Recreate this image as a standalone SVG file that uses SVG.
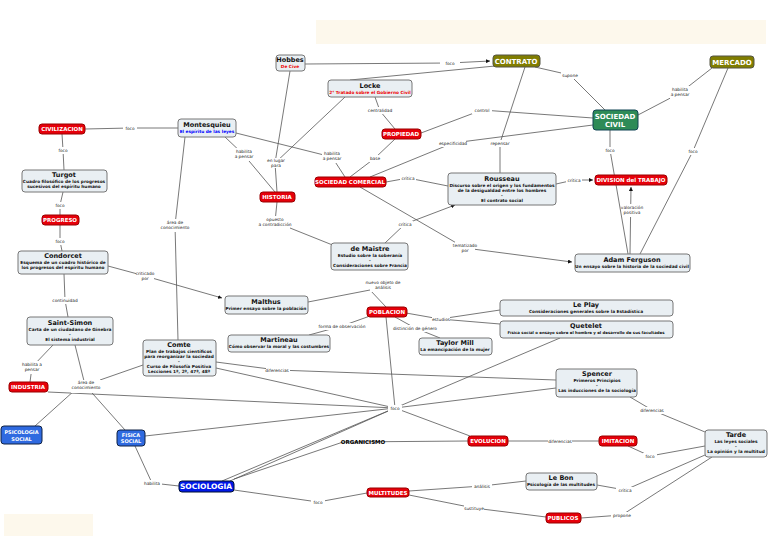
<svg xmlns="http://www.w3.org/2000/svg" width="768" height="536" viewBox="0 0 768 536">
<style>
text{font-family:"DejaVu Sans",sans-serif;text-anchor:middle}
.b rect{fill:#e9eff3;stroke:#777;stroke-width:1}
.t{font-size:6.5px;font-weight:bold;fill:#111}
.s{font-size:4.3px;font-weight:bold;fill:#111}
.sr{font-size:4.3px;font-weight:bold;fill:#e00}
.sb{font-size:4.3px;font-weight:bold;fill:#00f}
.r rect{fill:#e6000a;stroke:#900}
.r text{font-size:5.5px;font-weight:bold;fill:#fff}
.o rect{fill:#807d00;stroke:#554}
.o text{font-size:7px;font-weight:bold;fill:#fff}
.bl rect{fill:#2f6ae0;stroke:#124}
.bl text{font-size:6px;font-weight:bold;fill:#fff}
.c line,.c polyline{stroke:#555;stroke-width:0.8;fill:none}
.l{font-size:4.3px;fill:#222}
</style>
<defs><marker id="a" viewBox="0 0 6 6" refX="6" refY="3" markerWidth="5" markerHeight="5" orient="auto"><path d="M0,0L6,3L0,6z" fill="#111"/></marker></defs>
<rect x="316" y="20" width="450" height="24" fill="#fdf8ec"/>
<rect x="4" y="514" width="89" height="22" fill="#fdf8ec"/>
<g class="c">
<polyline points="305,64 450,63 490,61" marker-end="url(#a)"/>
<polyline points="290,71 275,163 277,192"/>
<polyline points="345,97 275,163"/>
<line x1="350" y1="80" x2="495" y2="66"/>
<polyline points="375,97 380,111 395,129"/>
<polyline points="525,67 500,143 500,173"/>
<polyline points="535,67 570,75 605,110"/>
<polyline points="712,68 680,93 638,115"/>
<polyline points="728,68 693,151 640,254"/>
<polyline points="610,130 610,150 628,254"/>
<polyline points="421,133 482,110 593,118"/>
<polyline points="370,177 453,143 593,125"/>
<polyline points="395,139 375,158 350,177"/>
<polyline points="236,133 332,157 345,177"/>
<polyline points="225,137 244,155 275,192"/>
<polyline points="178,128 130,128 85,129"/>
<polyline points="185,137 175,225 178,340"/>
<polyline points="62,134 63,150 64,170"/>
<polyline points="63,192 60,205 60,215"/>
<polyline points="60,225 60,241 62,251"/>
<polyline points="108,266 145,276 222,298" marker-end="url(#a)"/>
<polyline points="64,274 65,300 68,317"/>
<polyline points="277,202 275,222 340,248"/>
<polyline points="386,182 408,178 448,186"/>
<polyline points="360,187 465,248 572,262" marker-end="url(#a)"/>
<polyline points="556,184 574,180 593,180" marker-end="url(#a)"/>
<polyline points="630,254 631,187" marker-end="url(#a)"/>
<polyline points="385,243 405,224 455,205" marker-end="url(#a)"/>
<polyline points="308,302 370,290 386,307"/>
<polyline points="309,335 342,326 370,316"/>
<polyline points="395,317 415,328 440,338"/>
<polyline points="406,313 440,319 500,310"/>
<line x1="440" y1="319" x2="500" y2="324"/>
<line x1="386" y1="317" x2="395" y2="408"/>
<line x1="560" y1="338" x2="395" y2="408"/>
<line x1="556" y1="388" x2="395" y2="408"/>
<polyline points="216,362 277,370 556,380"/>
<polyline points="630,397 652,410 705,432"/>
<polyline points="53,345 32,367 30,382"/>
<polyline points="75,345 85,385 125,430"/>
<line x1="143" y1="365" x2="100" y2="380"/>
<line x1="75" y1="390" x2="35" y2="426"/>
<line x1="48" y1="392" x2="395" y2="408"/>
<line x1="216" y1="368" x2="395" y2="408"/>
<line x1="145" y1="436" x2="395" y2="408"/>
<polyline points="135,446 152,483 179,486"/>
<line x1="222" y1="481" x2="395" y2="408"/>
<line x1="230" y1="481" x2="395" y2="408"/>
<polyline points="234,479 343,442 468,441"/>
<line x1="395" y1="408" x2="470" y2="436"/>
<polyline points="508,441 560,441 599,441"/>
<polyline points="628,446 650,456 705,446"/>
<polyline points="234,490 318,502 367,493"/>
<polyline points="409,491 482,486 526,481"/>
<polyline points="409,495 474,508 546,517"/>
<polyline points="597,485 625,490 705,455"/>
<polyline points="581,518 622,515 712,457"/>
</g>
<g fill="#fff">
<rect x="440" y="60" width="20" height="6"/><rect x="267" y="158" width="18" height="10"/><rect x="370" y="107" width="20" height="7"/><rect x="490" y="140" width="20" height="7"/><rect x="561" y="72" width="18" height="7"/><rect x="670" y="86" width="20" height="13"/><rect x="686" y="148" width="14" height="7"/><rect x="604" y="147" width="12" height="7"/><rect x="472" y="107" width="20" height="7"/><rect x="440" y="140" width="26" height="7"/><rect x="368" y="155" width="14" height="7"/><rect x="322" y="150" width="20" height="13"/><rect x="234" y="148" width="20" height="13"/><rect x="123" y="125" width="14" height="7"/><rect x="164" y="219" width="22" height="13"/><rect x="56" y="147" width="14" height="7"/><rect x="53" y="202" width="14" height="7"/><rect x="53" y="238" width="14" height="7"/><rect x="136" y="270" width="18" height="13"/><rect x="54" y="297" width="22" height="7"/><rect x="260" y="216" width="30" height="13"/><rect x="400" y="175" width="16" height="7"/><rect x="455" y="242" width="20" height="13"/><rect x="566" y="177" width="16" height="7"/><rect x="622" y="204" width="20" height="13"/><rect x="397" y="221" width="16" height="7"/><rect x="370" y="279" width="26" height="13"/><rect x="322" y="323" width="40" height="7"/><rect x="397" y="325" width="36" height="7"/><rect x="432" y="316" width="18" height="7"/><rect x="388" y="405" width="14" height="7"/><rect x="266" y="367" width="24" height="7"/><rect x="640" y="407" width="24" height="7"/><rect x="20" y="361" width="24" height="13"/><rect x="71" y="380" width="30" height="13"/><rect x="142" y="480" width="20" height="7"/><rect x="548" y="438" width="24" height="7"/><rect x="643" y="453" width="14" height="7"/><rect x="311" y="499" width="14" height="7"/><rect x="472" y="483" width="20" height="7"/><rect x="464" y="505" width="20" height="7"/><rect x="616" y="487" width="18" height="7"/><rect x="611" y="512" width="22" height="7"/>
</g>
<g class="l">
<text x="450" y="65">foco</text><text x="276" y="162">en lugar</text><text x="276" y="167">para</text><text x="380" y="112">centralidad</text><text x="500" y="145">repensar</text><text x="570" y="77">supone</text><text x="680" y="91">habilita</text><text x="680" y="96">a pensar</text><text x="693" y="153">foco</text><text x="610" y="152">foco</text><text x="482" y="112">control</text><text x="453" y="145">especificidad</text><text x="375" y="160">base</text><text x="332" y="155">habilita</text><text x="332" y="160">a pensar</text><text x="244" y="153">habilita</text><text x="244" y="158">a pensar</text><text x="130" y="130">foco</text><text x="175" y="224">área de</text><text x="175" y="229">conocimiento</text><text x="63" y="152">foco</text><text x="60" y="207">foco</text><text x="60" y="243">foco</text><text x="145" y="275">criticado</text><text x="145" y="280">por</text><text x="65" y="302">continuidad</text><text x="275" y="221">opuesto</text><text x="275" y="226">a contradicción</text><text x="408" y="180">crítica</text><text x="465" y="247">tematizado</text><text x="465" y="252">por</text><text x="574" y="182">crítica</text><text x="632" y="209">valoración</text><text x="632" y="214">positiva</text><text x="405" y="226">crítica</text><text x="383" y="284">nuevo objeto de</text><text x="383" y="289">análisis</text><text x="342" y="328">forma de observación</text><text x="415" y="330">distinción de género</text><text x="441" y="321">estudios</text><text x="395" y="410">foco</text><text x="277" y="372">diferencias</text><text x="652" y="412">diferencias</text><text x="32" y="366">habilita a</text><text x="32" y="371">pensar</text><text x="86" y="384">área de</text><text x="86" y="389">conocimiento</text><text x="152" y="485">habilita</text><text x="560" y="443">diferencias</text><text x="650" y="458">foco</text><text x="318" y="504">foco</text><text x="482" y="488">análisis</text><text x="474" y="510">sustituye</text><text x="625" y="492">crítica</text><text x="622" y="517">propone</text>
</g>
<text x="363" y="444" style="font-size:5.5px;font-weight:bold">ORGANICISMO</text>
<g id="hobbes" class="b"><rect x="276" y="55" width="29" height="16" rx="3"/><text class="t" x="290" y="62">Hobbes</text><text class="sr" x="290" y="68">De Cive</text></g>
<g id="locke" class="b"><rect x="328" y="80" width="84" height="17" rx="3"/><text class="t" x="370" y="88">Locke</text><text class="sr" x="370" y="94">2° Tratado sobre el Gobierno Civil</text></g>
<g id="montesquieu" class="b"><rect x="178" y="119" width="58" height="18" rx="3"/><text class="t" x="207" y="127">Montesquieu</text><text class="sb" x="207" y="133">El espíritu de las leyes</text></g>
<g id="turgot" class="b"><rect x="22" y="170" width="85" height="22" rx="3"/><text class="t" x="64" y="177">Turgot</text><text class="s" x="64" y="183">Cuadro filosófico de los progresos</text><text class="s" x="64" y="188">sucesivos del espíritu humano</text></g>
<g id="rousseau" class="b"><rect x="448" y="173" width="108" height="32" rx="3"/><text class="t" x="502" y="181">Rousseau</text><text class="s" x="502" y="187">Discurso sobre el origen y los fundamentos</text><text class="s" x="502" y="192">de la desigualdad entre los hombres</text><text class="s" x="502" y="197">-</text><text class="s" x="502" y="202">El contrato social</text></g>
<g id="demaistre" class="b"><rect x="331" y="243" width="77" height="27" rx="3"/><text class="t" x="370" y="251">de Maistre</text><text class="s" x="370" y="257">Estudio sobre la soberanía</text><text class="s" x="370" y="262">-</text><text class="s" x="370" y="267">Consideraciones sobre Francia</text></g>
<g id="ferguson" class="b"><rect x="575" y="254" width="115" height="18" rx="3"/><text class="t" x="632" y="262">Adam Ferguson</text><text class="s" x="632" y="268">Un ensayo sobre la historia de la sociedad civil</text></g>
<g id="condorcet" class="b"><rect x="18" y="251" width="90" height="23" rx="3"/><text class="t" x="63" y="258">Condorcet</text><text class="s" x="63" y="264">Esquema de un cuadro histórico de</text><text class="s" x="63" y="269">los progresos del espíritu humano</text></g>
<g id="malthus" class="b"><rect x="225" y="296" width="83" height="18" rx="3"/><text class="t" x="266" y="304">Malthus</text><text class="s" x="266" y="310">Primer ensayo sobre la población</text></g>
<g id="leplay" class="b"><rect x="500" y="300" width="173" height="16" rx="3"/><text class="t" x="586" y="307">Le Play</text><text class="s" x="586" y="313">Consideraciones generales sobre la Estadística</text></g>
<g id="quetelet" class="b"><rect x="500" y="321" width="173" height="17" rx="3"/><text class="t" x="586" y="328">Quetelet</text><text class="s" x="586" y="334" style="font-size:3.9px">Física social o ensayo sobre el hombre y el desarrollo de sus facultades</text></g>
<g id="martineau" class="b"><rect x="228" y="335" width="102" height="17" rx="3"/><text class="t" x="279" y="342">Martineau</text><text class="s" x="279" y="348">Cómo observar la moral y las costumbres</text></g>
<g id="taylormill" class="b"><rect x="419" y="338" width="73" height="17" rx="3"/><text class="t" x="455" y="345">Taylor Mill</text><text class="s" x="455" y="351">La emancipación de la mujer</text></g>
<g id="saintsimon" class="b"><rect x="27" y="317" width="86" height="28" rx="3"/><text class="t" x="70" y="325">Saint-Simon</text><text class="s" x="70" y="331">Carta de un ciudadano de Ginebra</text><text class="s" x="70" y="336">-</text><text class="s" x="70" y="341">El sistema industrial</text></g>
<g id="comte" class="b"><rect x="143" y="340" width="73" height="36" rx="3"/><text class="t" x="179" y="347">Comte</text><text class="s" x="179" y="353">Plan de trabajos científicos</text><text class="s" x="179" y="358">para reorganizar la sociedad</text><text class="s" x="179" y="363">-</text><text class="s" x="179" y="368">Curso de Filosofía Positiva</text><text class="s" x="179" y="373">Lecciones 1ª, 2ª, 47ª, 48ª</text></g>
<g id="spencer" class="b"><rect x="556" y="369" width="81" height="28" rx="3"/><text class="t" x="597" y="376">Spencer</text><text class="s" x="597" y="382">Primeros Principios</text><text class="s" x="597" y="387">-</text><text class="s" x="597" y="392">Las inducciones de la sociología</text></g>
<g id="tarde" class="b"><rect x="705" y="430" width="62" height="27" rx="3"/><text class="t" x="736" y="437">Tarde</text><text class="s" x="736" y="443">Las leyes sociales</text><text class="s" x="736" y="448">-</text><text class="s" x="736" y="453">La opinión y la multitud</text></g>
<g id="lebon" class="b"><rect x="526" y="473" width="71" height="17" rx="3"/><text class="t" x="561" y="480">Le Bon</text><text class="s" x="561" y="486">Psicología de las multitudes</text></g>
<g id="contrato" class="o"><rect x="493" y="55" width="47" height="12" rx="3"/><text x="516" y="63.5">CONTRATO</text></g>
<g id="mercado" class="o"><rect x="710" y="56" width="44" height="12" rx="3"/><text x="732" y="64.5">MERCADO</text></g>
<g id="sociedadcivil"><rect x="593" y="110" width="45" height="20" rx="3" fill="#2e8b57" stroke="#145"/><text x="615" y="119" style="font-size:7px;font-weight:bold;fill:#fff">SOCIEDAD</text><text x="615" y="127" style="font-size:7px;font-weight:bold;fill:#fff">CIVIL</text></g>
<g id="civilizacion" class="r"><rect x="39" y="124" width="46" height="10" rx="3"/><text x="62" y="131">CIVILIZACION</text></g>
<g id="propiedad" class="r"><rect x="382" y="129" width="39" height="10" rx="3"/><text x="401" y="136">PROPIEDAD</text></g>
<g id="historia" class="r"><rect x="260" y="192" width="35" height="10" rx="3"/><text x="277" y="199">HISTORIA</text></g>
<g id="sociedadcomercial" class="r"><rect x="315" y="177" width="71" height="10" rx="3"/><text x="350" y="184">SOCIEDAD COMERCIAL</text></g>
<g id="division" class="r"><rect x="595" y="175" width="72" height="10" rx="3"/><text x="631" y="182">DIVISION del TRABAJO</text></g>
<g id="progreso" class="r"><rect x="42" y="215" width="37" height="10" rx="3"/><text x="60" y="222">PROGRESO</text></g>
<g id="poblacion" class="r"><rect x="367" y="307" width="40" height="10" rx="3"/><text x="387" y="314">POBLACION</text></g>
<g id="industria" class="r"><rect x="9" y="382" width="39" height="10" rx="3"/><text x="28" y="389">INDUSTRIA</text></g>
<g id="evolucion" class="r"><rect x="468" y="436" width="40" height="10" rx="3"/><text x="488" y="443">EVOLUCION</text></g>
<g id="imitacion" class="r"><rect x="599" y="436" width="38" height="10" rx="3"/><text x="618" y="443">IMITACION</text></g>
<g id="multitudes" class="r"><rect x="367" y="488" width="42" height="9" rx="3"/><text x="388" y="494.5">MULTITUDES</text></g>
<g id="publicos" class="r"><rect x="546" y="513" width="35" height="10" rx="3"/><text x="563" y="520">PUBLICOS</text></g>
<g id="psicologia" class="bl"><rect x="1" y="426" width="41" height="18" rx="3"/><text x="21.5" y="434" style="font-size:5px">PSICOLOGIA</text><text x="21.5" y="441" style="font-size:5px">SOCIAL</text></g>
<g id="fisica" class="bl"><rect x="117" y="430" width="28" height="16" rx="3"/><text x="131" y="437" style="font-size:5px">FISICA</text><text x="131" y="443" style="font-size:5px">SOCIAL</text></g>
<g id="sociologia"><rect x="179" y="481" width="55" height="11" rx="3" fill="#0018e8" stroke="#013"/><text x="206" y="489" style="font-size:7.5px;font-weight:bold;fill:#fff">SOCIOLOGIA</text></g>
</svg>
